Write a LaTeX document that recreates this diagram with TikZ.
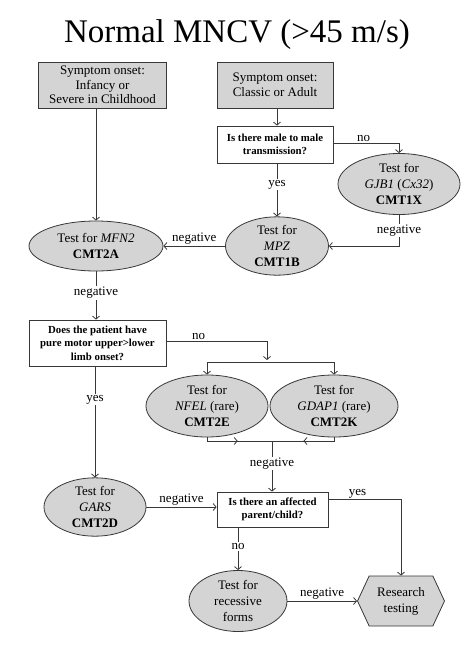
\documentclass[tikz,border=0pt]{standalone}
\usepackage{fontspec}
\setmainfont{Liberation Serif}
\usepackage[dvipsnames]{xcolor}
\definecolor{BOXcolor}{HTML}{d4d4d4}
\definecolor{LINEcolor}{HTML}{383838}
\usepackage{tikz}
\usetikzlibrary{shapes.geometric, shapes.symbols, arrows.meta, decorations.markings}

\begin{document}
\begin{tikzpicture}[x=1pt, y=-1pt]
    \tikzset{%
        onset/.style={draw=LINEcolor, line width=0.8pt, fill=BOXcolor, rectangle, inner sep=0pt, align=center,
                font=\fontsize{13pt}{14.5pt}\selectfont},
        question/.style={draw=LINEcolor, line width=0.8pt, fill=white, rectangle, inner sep=0pt, align=center,
                font=\fontsize{10.8pt}{13.5pt}\selectfont\bfseries},
        gene/.style={draw=LINEcolor, line width=0.8pt, fill=BOXcolor, ellipse, inner sep=0pt, align=center,
                font=\fontsize{13pt}{16pt}\selectfont},
        hexbox/.style={draw=LINEcolor, line width=0.8pt, fill=BOXcolor, signal, signal to=west and east,
                signal pointer angle=130, inner sep=0pt, align=center, font=\fontsize{13pt}{16pt}\selectfont},
        flow/.style={draw=LINEcolor, line width=0.8pt, -{Straight Barb[length=3pt, width=7pt]}},
        joint/.style={draw=LINEcolor, line width=0.8pt},
        answer/.style={font=\fontsize{13pt}{14pt}\selectfont, fill=white, inner sep=1pt},
        midarrow/.style={postaction={decorate}, decoration={markings,
                        mark=at position #1 with {\arrow{Straight Barb[length=3pt, width=7pt]}}}},
    }

    \fill [white] (0, 0) rectangle (474, 651);
    \useasboundingbox (0, 0) rectangle (474, 651);

    \node (title) at (237, 35) {\fontsize{33pt}{33pt}\selectfont Normal MNCV (>45 m/s)};

    % onset boxes and first question
    \node (onsetA) at (102.5, 85) [onset, minimum width=128pt, minimum height=46pt] {Symptom onset:\\Infancy or\\Severe in Childhood};
    \node (onsetB) at (275, 85) [onset, minimum width=116pt, minimum height=46pt] {Symptom onset:\\Classic or Adult};
    \node (maleQ) at (275, 144.5) [question, minimum width=116pt, minimum height=37pt] {Is there male to male\\transmission?};

    \node (cmtX) at (399, 184) [gene, minimum width=122pt, minimum height=61pt] {Test for\\\textit{GJB1} (\textit{Cx32})\\\textbf{CMT1X}};
    \node (cmtB) at (277, 246) [gene, minimum width=103pt, minimum height=57pt] {Test for\\\textit{MPZ}\\\textbf{CMT1B}};
    \node (cmtA) at (96, 246) [gene, minimum width=134pt, minimum height=50pt] {Test for \textit{MFN2}\\\textbf{CMT2A}};

    % second question
    \node (pureQ) at (97.5, 343) [question, minimum width=137pt, minimum height=46pt] {Does the patient have\\pure motor upper>lower\\limb onset?};
    \coordinate (split) at (267, 362);
    \coordinate (merge) at (272, 441);
    \node (cmtE) at (207, 406) [gene, minimum width=122pt, minimum height=62pt] {Test for\\\textit{NFEL} (rare)\\\textbf{CMT2E}};
    \node (cmtK) at (334, 406) [gene, minimum width=128pt, minimum height=62pt] {Test for\\\textit{GDAP1} (rare)\\\textbf{CMT2K}};

    % last question
    \node (cmtD) at (95, 507) [gene, minimum width=102pt, minimum height=58pt] {Test for\\\textit{GARS}\\\textbf{CMT2D}};
    \node (parentQ) at (272.5, 509.5) [question, minimum width=111pt, minimum height=35pt] {Is there an affected\\parent/child?};
    \node (recess) at (238, 601) [gene, minimum width=98pt, minimum height=61pt] {Test for\\recessive\\forms};
    \node (research) at (401, 601) [hexbox, minimum width=87pt, minimum height=50pt] {Research\\testing};

    \draw [flow] (onsetA.south -| cmtA.north) -- (cmtA.north);
    \draw [flow] (onsetB.south -| cmtB.north) -- (maleQ.north -| cmtB.north);
    \draw [flow] ([yshift=1.5pt]maleQ.east) -| node [pos=0.23, above, answer, fill=none] {no} (cmtX.north);
    \draw [flow] (maleQ.south -| cmtB.north) -- node [pos=0.4, answer] {yes} (cmtB.north);
    \draw [flow] (cmtX.south) |- node [pos=0.25, answer] {negative} (cmtB.east);
    \draw [flow] (cmtB.west) -- node [above, answer, fill=none] {negative} (cmtA.east);
    \draw [flow] (cmtA.south) -- node [pos=0.45, answer] {negative} (pureQ.north -| cmtA.south);

    \draw [flow] ([yshift=2pt]pureQ.east) -| node [pos=0.16, above, answer, fill=none] {no} ([yshift=2pt]split);
    \draw [joint] (cmtE.north |- split) -- (cmtK.north |- split);
    \draw [flow] (cmtE.north |- split) -- (cmtE.north);
    \draw [flow] (cmtK.north |- split) -- (cmtK.north);
    \draw [joint, midarrow=0.5] (cmtE.south) |- (merge);
    \draw [joint, midarrow=0.52] (cmtK.south) |- (merge);
    \draw [flow] (merge) -- node [pos=0.45, answer] {negative} (parentQ.north -| merge);

    \draw [flow] (pureQ.south -| cmtD.north) -- node [pos=0.3, answer] {yes} (cmtD.north);
    \draw [flow] (cmtD.east) -- node [above, answer, fill=none] {negative} (cmtD.east -| parentQ.west);
    \draw [flow] ([yshift=10pt]parentQ.east) -| node [pos=0.2, above, answer, fill=none] {yes} (research.north);
    \draw [flow] (parentQ.south -| recess.north) -- node [pos=0.45, answer] {no} (recess.north);
    \draw [flow] (recess.east) -- node [above, answer, fill=none] {negative} (research.west);
\end{tikzpicture}
\end{document}
